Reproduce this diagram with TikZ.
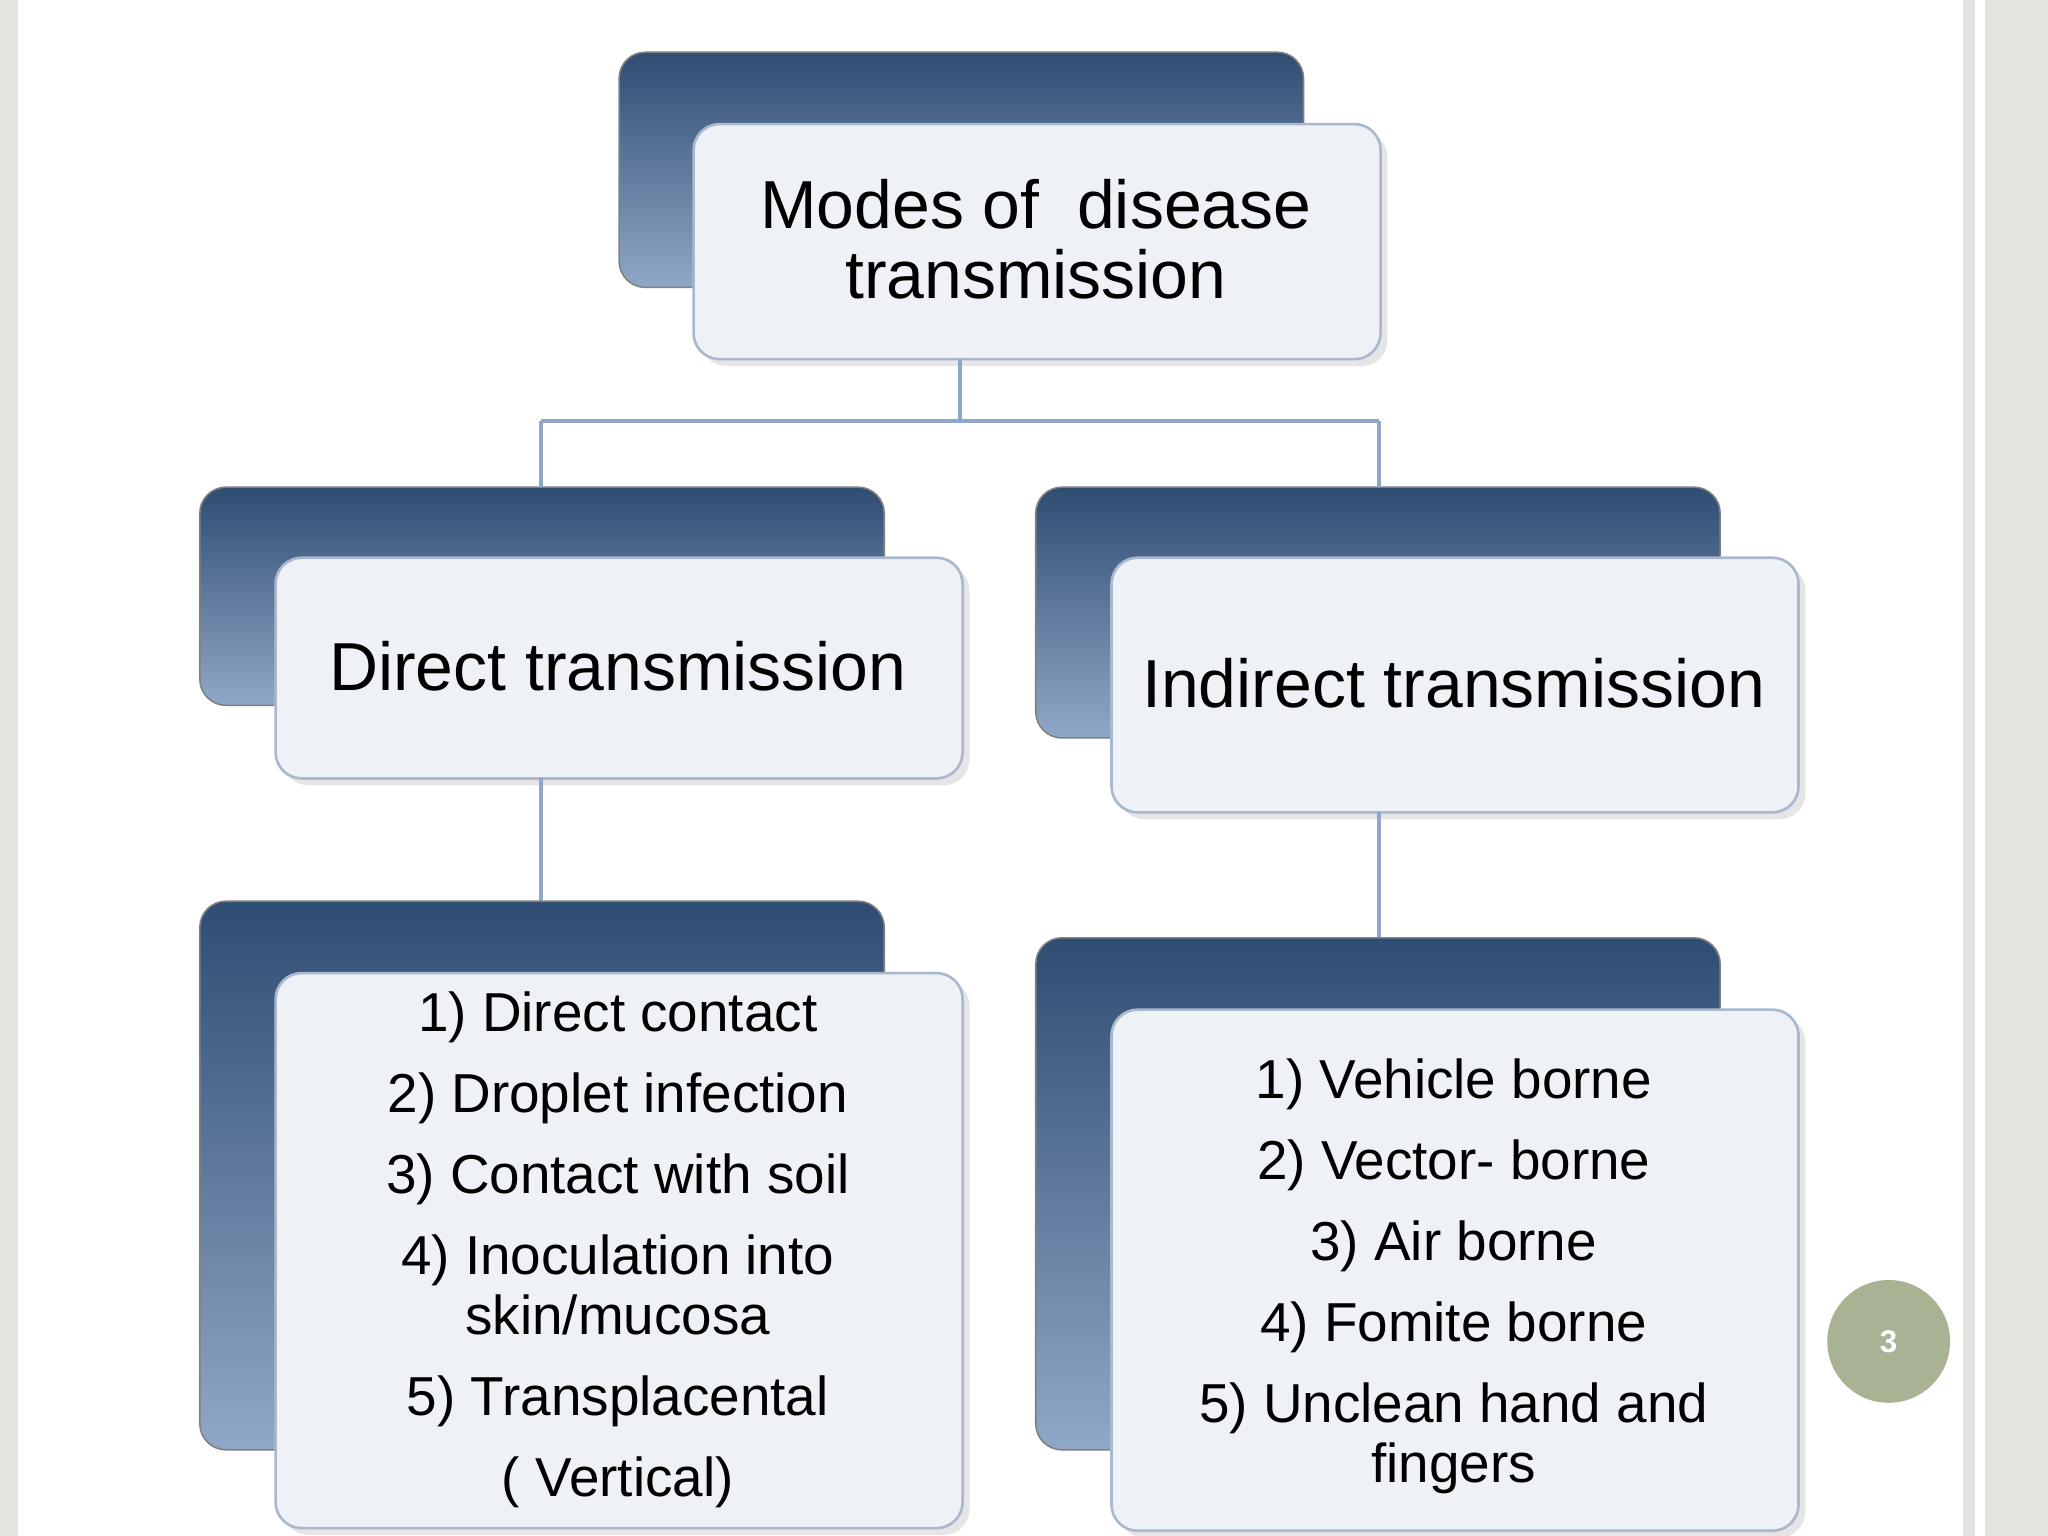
\documentclass[tikz,border=0pt]{standalone}
\usepackage{fontspec}
\setmainfont{Liberation Sans}
\usetikzlibrary{shadows}
\definecolor{dk}{HTML}{2F4C72}
\definecolor{lt}{HTML}{8FA8C8}
\definecolor{pg}{HTML}{A8B393}
\definecolor{fr}{HTML}{EEF1F6}
\definecolor{fb}{HTML}{A9B8CC}
\definecolor{cn}{HTML}{8EA6C8}
\definecolor{sd}{HTML}{E3E6DF}
\begin{document}
\begin{tikzpicture}[x=0.5pt,y=-0.5pt,
 back/.style={rounded corners=10pt,top color=dk,bottom color=lt,draw=black!50,line width=0.6pt},
 front/.style={rounded corners=10pt,fill=fr,draw=fb,line width=1pt,drop shadow={opacity=0.2}},
 con/.style={draw=cn,line width=1.5pt},
 lbl/.style={align=center,font=\fontsize{26}{27}\selectfont},
 lst/.style={align=center,font=\fontsize{21}{23}\selectfont}]
\useasboundingbox (0,0) rectangle (1568,1176);
\fill[white] (0,0) rectangle (1568,1176);
\fill[sd] (0,0) rectangle (14,1176);
\fill[sd] (1503,0) rectangle (1568,1176);
\fill[white] (1512,0) rectangle (1520,1176);
% top
\path[back] (474,40) rectangle (998,220);
\path[front] (531,95) rectangle (1057,275);
\node[lbl] (top) at (793,183) {Modes of\ \ disease\\transmission};
% direct / indirect
\path[back] (153,373) rectangle (677,540);
\path[front] (211,427) rectangle (737,596);
\node[lbl] (dir) at (473,510) {Direct transmission};
\path[back] (793,373) rectangle (1317,565);
\path[front] (851,427) rectangle (1377,622);
\node[lbl] (ind) at (1113,523) {Indirect transmission};
% connectors
\coordinate (t) at (735,275); \coordinate (tj) at (735,322);
\coordinate (l) at (414,322); \coordinate (r) at (1056,322);
\coordinate (lb) at (414,373); \coordinate (rb) at (1056,373);
\draw[con] (t)--(tj) (l)--(r) (l)--(lb) (r)--(rb);
\coordinate (d1) at (414,596); \coordinate (d2) at (414,690);
\coordinate (i1) at (1056,622); \coordinate (i2) at (1056,718);
\draw[con] (d1)--(d2) (i1)--(i2);
% lists
\path[back] (153,690) rectangle (677,1110);
\path[front] (211,745) rectangle (737,1170);
\node[lst] (dl) at (473,957) {1) Direct contact\\[8pt]2) Droplet infection\\[8pt]3) Contact with soil\\[8pt]4) Inoculation into\\skin/mucosa\\[8pt]5) Transplacental\\[8pt]( Vertical)};
\path[back] (793,718) rectangle (1317,1110);
\path[front] (851,773) rectangle (1377,1172);
\node[lst] (il) at (1113,977) {1) Vehicle borne\\[8pt]2) Vector- borne\\[8pt]3) Air borne\\[8pt]4) Fomite borne\\[8pt]5) Unclean hand and\\fingers};
% page number
\node[circle,fill=pg,minimum size=47pt,text=white,font=\bfseries\fontsize{12}{14}\selectfont] (pg) at (1446,1027) {3};
\end{tikzpicture}
\end{document}
